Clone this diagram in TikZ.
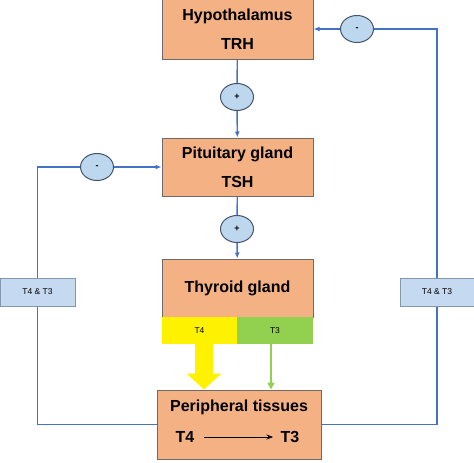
\documentclass[tikz,border=0pt]{standalone}
\usepackage{fontspec}
\setmainfont{Liberation Sans}
\usetikzlibrary{arrows.meta}
\usetikzlibrary{shapes}
\definecolor{GlandFill}{HTML}{F4B183}
\definecolor{GlandLine}{HTML}{6F6A66}
\definecolor{LinkBlue}{HTML}{4472C4}
\definecolor{SignFill}{HTML}{BDD7EE}
\definecolor{SignLine}{HTML}{44546A}
\definecolor{FeedFill}{HTML}{C5D9F1}
\definecolor{FeedLine}{HTML}{8497B0}
\definecolor{T3Green}{HTML}{92D050}
\tikzstyle{GlandNode}=[rectangle, draw=GlandLine, fill=GlandFill, line width=1pt, minimum width=151pt, minimum height=58pt, align=center, font=\fontsize{16}{19}\selectfont\bfseries]
\tikzstyle{SignNode}=[ellipse, draw=SignLine, fill=SignFill, line width=1pt, minimum width=33pt, minimum height=27pt, inner sep=0pt, font=\fontsize{9}{10}\selectfont\bfseries]
\tikzstyle{FeedNode}=[rectangle, draw=FeedLine, fill=FeedFill, line width=1pt, minimum height=28pt, inner sep=0pt, font=\fontsize{8.5}{10}\selectfont]
\tikzstyle{HormoneNode}=[rectangle, minimum height=27pt, inner sep=0pt, font=\fontsize{8.5}{10}\selectfont]
\tikzstyle{LinkEdge}=[draw=LinkBlue, line width=1.4pt]
\tikzstyle{FeedEdge}=[LinkEdge, -{Latex[length=6pt,width=5pt]}]

\begin{document}
\begin{tikzpicture}[x=1pt, y=-1pt]
\useasboundingbox (0,0) rectangle (474,463);
\node[GlandNode, minimum height=60pt](Hypo) at (237.5,29) {Hypothalamus\\[10pt]TRH};
\node[SignNode](Plus1) at (237,97) {+};
\node[GlandNode](Pit) at (237.5,167) {Pituitary gland\\[10pt]TSH};
\node[SignNode](Plus2) at (237,229) {+};
\node[GlandNode](Thy) at (237.5,288) {Thyroid gland};
\node[HormoneNode, fill=yellow, minimum width=75pt](T4) at (199.5,330.5) {T4};
\node[HormoneNode, fill=T3Green, minimum width=76pt](T3) at (275,330.5) {T3};
\node[GlandNode, minimum width=164pt, minimum height=69pt](Per) at (239,424.5) {};
\node[font=\fontsize{16}{19}\selectfont\bfseries](PerName) at (239,407) {Peripheral tissues};
\node[font=\fontsize{16}{19}\selectfont\bfseries](PerT4) at (185,437) {T4};
\node[font=\fontsize{16}{19}\selectfont\bfseries](PerT3) at (290,437) {T3};
\node[FeedNode, minimum width=75pt](FbL) at (37.5,292) {T4 \& T3};
\node[FeedNode, minimum width=74pt](FbR) at (437,292) {T4 \& T3};
\node[SignNode](MinusL) at (97,167) {-};
\node[SignNode](MinusR) at (357,29) {-};

% stimulating axis
\draw[LinkEdge](Hypo) -- (Plus1);
\draw[FeedEdge](Plus1) -- (Pit);
\draw[LinkEdge](Pit) -- (Plus2);
\draw[FeedEdge](Plus2) -- (Thy);

% hormones to the tissues
\draw[yellow, line width=18pt, -{Triangle[width=35pt,length=16pt,line width=0pt]}]([xshift=4.5pt]T4.south) -- ([xshift=4.5pt]T4.south |- Per.north);
\draw[T3Green, line width=1.5pt, -{Triangle[width=7pt,length=7pt]}]([xshift=-4pt]T3.south) -- ([xshift=-4pt]T3.south |- Per.north);
\draw[->, >=Stealth, line width=0.8pt, shorten <=6pt, shorten >=4pt](PerT4) -- (PerT3);

% negative feedback
\draw[LinkEdge](Per.west) -| (FbL);
\draw[LinkEdge](FbL) |- (MinusL);
\draw[FeedEdge](MinusL) -- (Pit);
\draw[LinkEdge](Per.east) -| (FbR);
\draw[LinkEdge](FbR) |- (MinusR);
\draw[FeedEdge](MinusR) -- (Hypo);
\end{tikzpicture}
\end{document}
